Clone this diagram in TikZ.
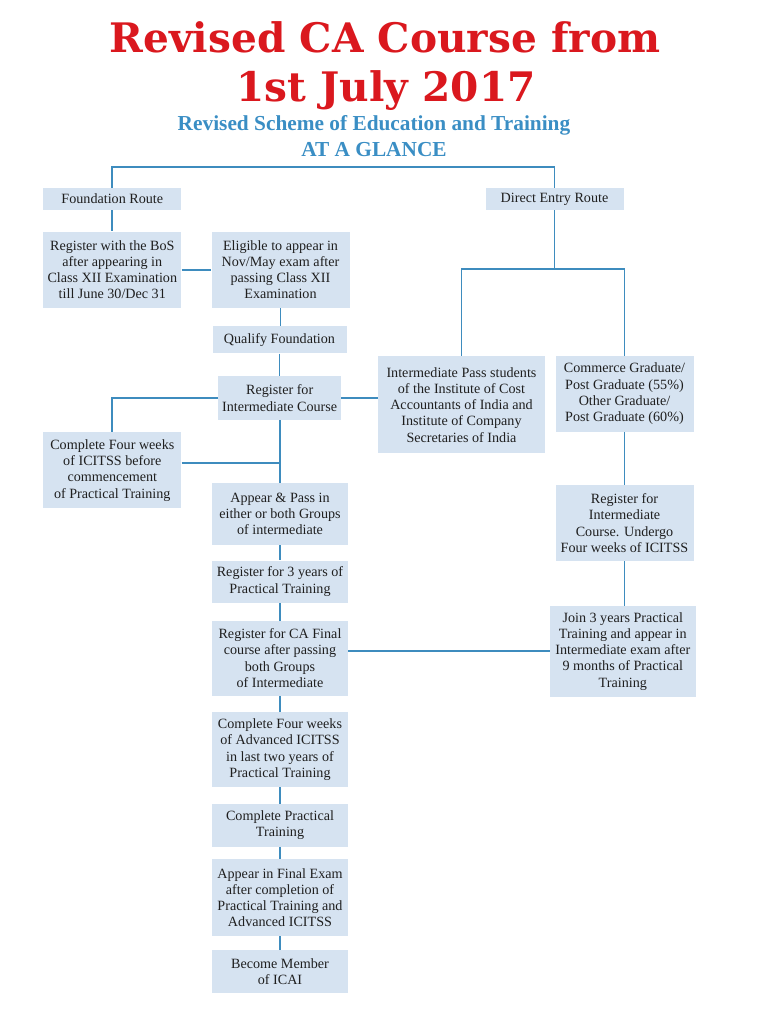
\documentclass[tikz,border=0pt]{standalone}
\usepackage{fontspec}
\setmainfont{Liberation Serif}
\newfontfamily\titlefont{DejaVu Serif}
\usepackage{xcolor}
\usepackage{tikz}
\definecolor{titlered}{RGB}{218,24,30}
\definecolor{glance}{RGB}{58,142,196}
\definecolor{linkblue}{RGB}{62,140,190}
\definecolor{boxfill}{RGB}{214,227,241}
\colorlet{ink}{black!88}
\tikzset{
  % node options
  step box/.style={fill=boxfill,text=ink,align=center,inner sep=0pt,
    font=\fontsize{10.6}{12.2}\selectfont},
  main box/.style={step box,minimum width=102pt},
  side box/.style={step box,minimum width=103.5pt},
  heading/.style={anchor=base,text=titlered,font=\titlefont\bfseries\fontsize{30.5}{32}\selectfont},
  subheading/.style={anchor=base,text=glance,font=\bfseries\fontsize{16}{18}\selectfont},
  % path options
  link/.style={draw=linkblue,line width=1.3pt},
}
\begin{document}
\begin{tikzpicture}[x=0.75pt,y=-0.75pt]
  \useasboundingbox (0,0) rectangle (772,1016);
  % titles
  \node[heading] (title1) at (385,53) {Revised CA Course from};
  \node[heading] (title2) at (386,102) {1st July 2017};
  \node[subheading] (scheme) at (374,131) {Revised Scheme of Education and Training};
  \node[subheading] (glance) at (374,157) {AT A GLANCE};
  % foundation route
  \node[side box,minimum height=16.5pt] (found) at (112.3,199) {Foundation Route};
  \node[side box,minimum height=57pt] (bos) at (112.3,269.7) {Register with the BoS\\after appearing in\\Class XII Examination\\till June 30/Dec 31};
  \node[side box,minimum height=57pt] (elig) at (280.5,269.7) {Eligible to appear in\\Nov/May exam after\\passing Class XII\\Examination};
  \node[step box,minimum width=100.5pt,minimum height=20.5pt] (qualify) at (279.5,339.7) {Qualify Foundation};
  \node[step box,minimum width=92pt,minimum height=33pt] (reginter) at (279.7,398) {Register for\\Intermediate Course};
  \node[side box,minimum height=57pt] (icitss) at (112.3,470.3) {Complete Four weeks\\of ICITSS before\\commencement\\of Practical Training};
  \node[main box,minimum height=46.5pt] (appear) at (280,513.8) {Appear \& Pass in\\either or both Groups\\of intermediate};
  \node[main box,minimum height=31.5pt] (reg3) at (280,581.5) {Register for 3 years of\\Practical Training};
  \node[main box,minimum height=56pt] (cafinal) at (280,658.2) {Register for CA Final\\course after passing\\both Groups\\of Intermediate};
  \node[main box,minimum height=56pt] (advanced) at (280,749.7) {Complete Four weeks\\of Advanced ICITSS\\in last two years of\\Practical Training};
  \node[main box,minimum height=32pt] (complprac) at (280,825.3) {Complete Practical\\Training};
  \node[main box,minimum height=57.5pt] (final) at (280,897.7) {Appear in Final Exam\\after completion of\\Practical Training and\\Advanced ICITSS};
  \node[main box,minimum height=32.5pt] (member) at (280,971.7) {Become Member\\of ICAI};
  % direct entry route
  \node[side box,minimum height=16.5pt] (direct) at (554.5,199) {Direct Entry Route};
  \node[step box,minimum width=125pt,minimum height=73pt] (ipass) at (461.5,404.7) {Intermediate Pass students\\of the Institute of Cost\\Accountants of India and\\Institute of Company\\Secretaries of India};
  \node[side box,minimum height=57pt] (commerce) at (624.5,393.8) {Commerce Graduate/\\Post Graduate (55\%)\\Other Graduate/\\Post Graduate (60\%)};
  \node[side box,minimum height=57pt] (rightreg) at (624.5,523) {Register for\\Intermediate\\Course. Undergo\\Four weeks of ICITSS};
  \node[step box,minimum width=109.5pt,minimum height=68pt] (join) at (622.8,651.2) {Join 3 years Practical\\Training and appear in\\Intermediate exam after\\9 months of Practical\\Training};
  % junctions
  \coordinate (top) at (333.5,167.3);
  \coordinate (split) at (554.5,269);
  \coordinate (mainjoin) at (280,462.7);
  % connectors
  \draw[link] (found) |- (top) -| (direct);
  \draw[link] (found) -- (bos);
  \draw[link] (bos) -- (elig);
  \draw[link] (elig) -- (elig |- qualify.north);
  \draw[link] (qualify) -- (qualify |- reginter.north);
  \draw[link] (reginter.east) -- (reginter.east -| ipass.west);
  \draw[link] (reginter.west) -| (icitss);
  \draw[link] (reginter.south -| appear.north) -- (appear.north);
  \draw[link] (icitss.east |- mainjoin) -- (mainjoin);
  \draw[link] (appear) -- (reg3);
  \draw[link] (reg3) -- (cafinal);
  \draw[link] (cafinal) -- (advanced);
  \draw[link] (advanced) -- (complprac);
  \draw[link] (complprac) -- (final);
  \draw[link] (final) -- (member);
  \draw[link] (direct) -- (split);
  \draw[link] (ipass) |- (split) -| (commerce);
  \draw[link] (commerce) -- (rightreg);
  \draw[link] (rightreg) -- (rightreg |- join.north);
  \draw[link] (join.west) -- (join.west -| cafinal.east);
\end{tikzpicture}
\end{document}
